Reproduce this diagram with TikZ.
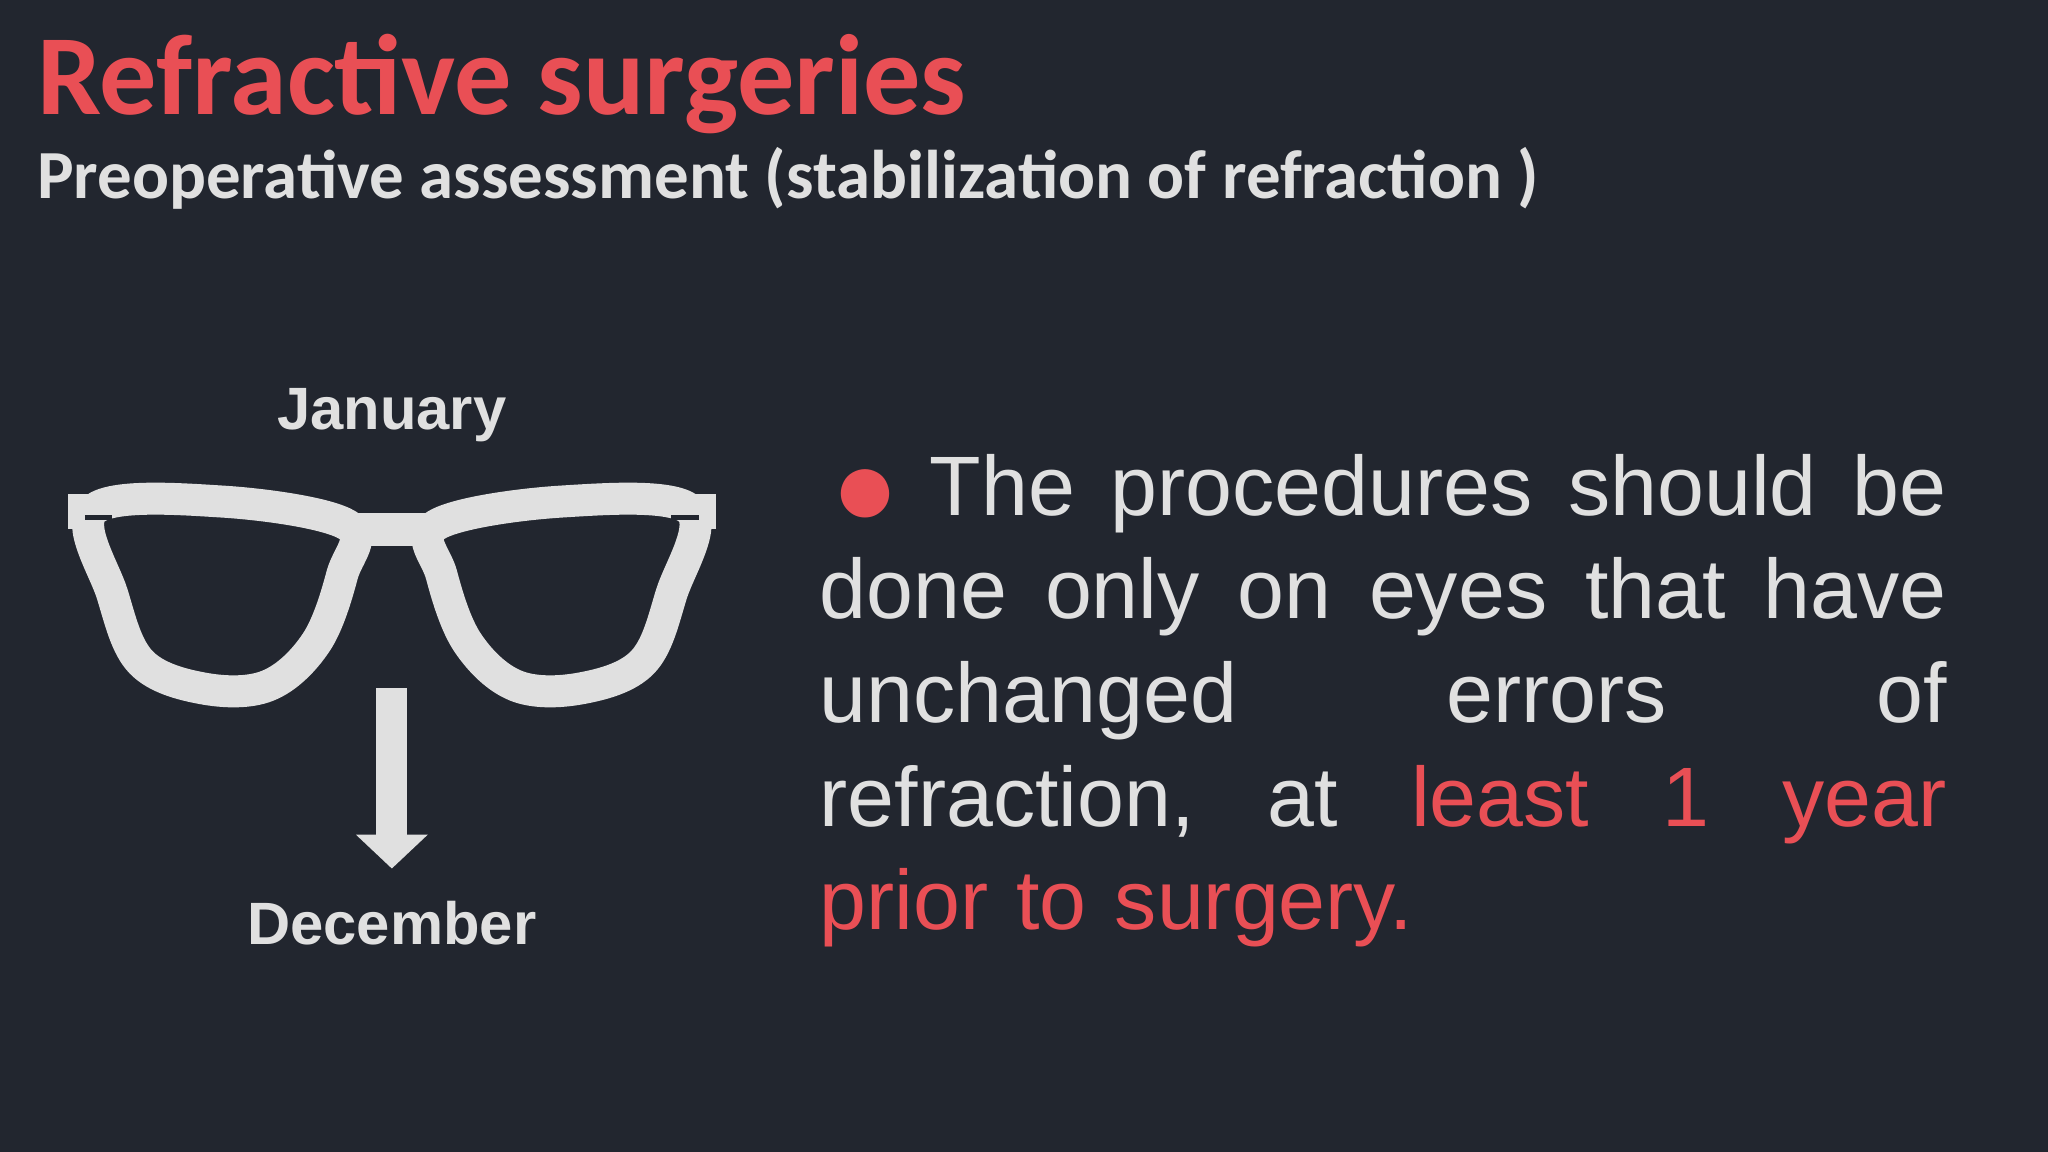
\documentclass[tikz,border=0pt]{standalone}
\usepackage{fontspec}
\setmainfont{Liberation Sans}
\newfontfamily\calib{Carlito}
\usetikzlibrary{arrows.meta}
\definecolor{bg}{HTML}{22262F}
\definecolor{fg}{HTML}{E0E0E0}
\definecolor{accent}{HTML}{E94F55}
\tikzset{
  lab/.style={text=fg,font=\bfseries\fontsize{17}{20}\selectfont,inner sep=0pt},
  frame/.style={draw=fg,line width=0.32cm,line join=round}
}
\newcommand{\fullline}[1]{\hbox to \linewidth{#1}}
\begin{document}
\begin{tikzpicture}[x=0.01306cm,y=-0.01306cm]
\fill[bg] (0,0) rectangle (1568,882);
\useasboundingbox (0,0) rectangle (1568,882);
\node[anchor=base west,text=accent,inner sep=0pt,font=\calib\bfseries\fontsize{32.5}{36}\selectfont] (title) at (28,88) {Refractive surgeries};
\node[anchor=base west,text=fg,inner sep=0pt,font=\calib\bfseries\fontsize{19.6}{23}\selectfont] (sub) at (28,152) {Preoperative assessment (stabilization of refraction )};
% glasses
\draw[frame] plot[smooth cycle,tension=0.6] coordinates {(72,390) (170,384) (266,402) (262,440) (242,492) (205,525) (155,527) (108,507) (86,455)};
\draw[frame] plot[smooth cycle,tension=0.6] coordinates {(528,390) (430,384) (334,402) (338,440) (358,492) (395,525) (445,527) (492,507) (514,455)};
\fill[fg] (262,393) rectangle (338,418);
\fill[fg] (52,378) rectangle (75,405);
\fill[fg] (525,378) rectangle (548,405);
\fill[bg] (284,440) .. controls (286,422) and (314,422) .. (316,440) -- (316,452) -- (284,452) -- cycle;
\draw[bg,line width=0.05cm] (65,396) -- (86,396) (514,396) -- (535,396);
\node[lab] (jan) at (300,318) {January};
\node[lab] (dec) at (300,707) {December};
\coordinate (as) at (300,527);
\coordinate (ae) at (300,665);
\draw[fg,line width=0.31cm,-{Triangle[width=0.7cm,length=0.34cm]}] (as) -- (ae);
% text
\node[anchor=north west,inner sep=0pt,text width=11.27cm,align=left,text=fg,font=\fontsize{24}{29.5}\selectfont] (body) at (627,347)
{\fullline{\hspace*{0.12cm}\raisebox{-0.1cm}{\color{accent}\fontsize{32}{30}\selectfont ●}\hspace{0.3cm}The\hfill procedures\hfill should\hfill be}
\fullline{done\hfill only\hfill on\hfill eyes\hfill that\hfill have}
\fullline{unchanged\hfill errors\hfill of}
\fullline{refraction,\hfill at\hfill {\color{accent}least}\hfill {\color{accent}1}\hfill {\color{accent}year}}
{\color{accent}prior to surgery.}};
\end{tikzpicture}
\end{document}
